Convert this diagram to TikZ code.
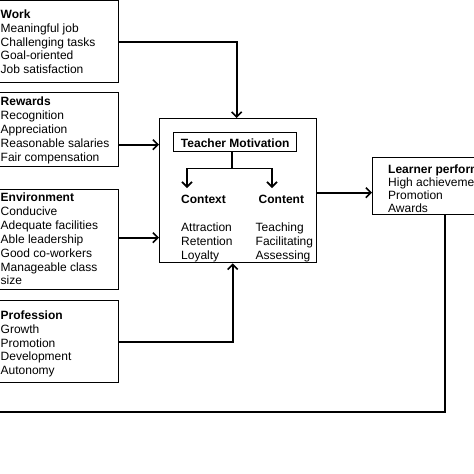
\documentclass[tikz,border=0pt]{standalone}
\usepackage{fontspec}
\setmainfont{Liberation Sans}
\usetikzlibrary{arrows.meta}
\tikzset{
  box/.style={draw=black, line width=1.4pt, inner sep=0pt, anchor=north west},
  txt/.style={inner sep=0pt, anchor=base west, font=\fontsize{12}{14}\selectfont},
  btxt/.style={txt, font=\fontsize{12}{14}\selectfont\bfseries},
  conn/.style={draw=black, line width=1.6pt},
  arr/.style={conn, -{Straight Barb[length=5pt,width=10pt,line width=1.6pt]}}
}
\begin{document}
\begin{tikzpicture}[x=1pt,y=1pt]
\useasboundingbox (0,0) rectangle (474,-474);
\clip (0,0) rectangle (474,-474);
\fill[white] (0,0) rectangle (474,-474);
% boxes
\node[box, minimum width=122pt, minimum height=82pt] (work) at (-4,0) {};
\node[box, minimum width=122pt, minimum height=74pt] (rewards) at (-4,-92) {};
\node[box, minimum width=122pt, minimum height=100pt] (env) at (-4,-189) {};
\node[box, minimum width=122pt, minimum height=82pt] (prof) at (-4,-300) {};
\node[box, minimum width=157pt, minimum height=144pt] (main) at (159,-118) {};
\node[box, minimum width=123pt, minimum height=19pt] (tm) at (173,-132) {};
\node[box, minimum width=130pt, minimum height=57pt] (learner) at (372,-157) {};
% texts
\node[btxt] (workh) at (0.5,-18.5) {Work};
\foreach \t [count=\i] in {Meaningful job, Challenging tasks, Goal-oriented, Job satisfaction}
  \node[txt] (work\i) at (0.5,{-18.5-\i*13.8}) {\t};
\node[btxt] (rewh) at (0.5,-105.5) {Rewards};
\foreach \t [count=\i] in {Recognition, Appreciation, Reasonable salaries, Fair compensation}
  \node[txt] (rew\i) at (0.5,{-105.5-\i*14}) {\t};
\node[btxt] (envh) at (0.5,-201.5) {Environment};
\foreach \t [count=\i] in {Conducive, Adequate facilities, Able leadership, Good co-workers, Manageable class, size}
  \node[txt] (env\i) at (0.5,{-201.5-\i*13.9}) {\t};
\node[btxt] (profh) at (0.5,-319.5) {Profession};
\foreach \t [count=\i] in {Growth, Promotion, Development, Autonomy}
  \node[txt] (prof\i) at (0.5,{-319.5-\i*13.8}) {\t};
\node[btxt, anchor=base] (tmt) at (tm.center |- 0,-147.5) {Teacher Motivation};
\node[btxt] (ctx) at (181,-203.5) {Context};
\node[btxt] (cnt) at (258.5,-203.5) {Content};
\foreach \t [count=\i from 0] in {Attraction, Retention, Loyalty}
  \node[txt] (ctx\i) at (181,{-231.5-\i*14}) {\t};
\foreach \t [count=\i from 0] in {Teaching, Facilitating, Assessing}
  \node[txt] (cnt\i) at (255.5,{-231.5-\i*14}) {\t};
\node[btxt] (lrnh) at (388,-173.5) {Learner performance};
\foreach \t [count=\i] in {High achievement, Promotion, Awards}
  \node[txt] (lrn\i) at (388,{-173.5-\i*13}) {\t};
% connectors
\draw[arr] (work.east) -| ([xshift=-1.5pt]main.north);
\draw[arr] ([yshift=-15pt]rewards.east) -- ([yshift=-15pt]rewards.east -| main.west);
\draw[arr] ([yshift=2pt]env.east) -- ([yshift=2pt]env.east -| main.west);
\draw[arr] (prof.east) -| ([xshift=-5.5pt]main.south);
\draw[arr] ([yshift=-2pt]main.east) -- ([yshift=-2pt]main.east -| learner.west);
\coordinate (fb) at (-10,-412);
\draw[conn] ([xshift=73pt]learner.south west) |- (fb);
\coordinate (split) at ([xshift=-3.5pt,yshift=-16pt]tm.south);
\coordinate (cl) at (187,-188);
\coordinate (cr) at (272,-188);
\draw[conn] ([xshift=-3.5pt]tm.south) -- (split);
\draw[arr] (split) -| (cl);
\draw[arr] (split) -| (cr);
\end{tikzpicture}
\end{document}
